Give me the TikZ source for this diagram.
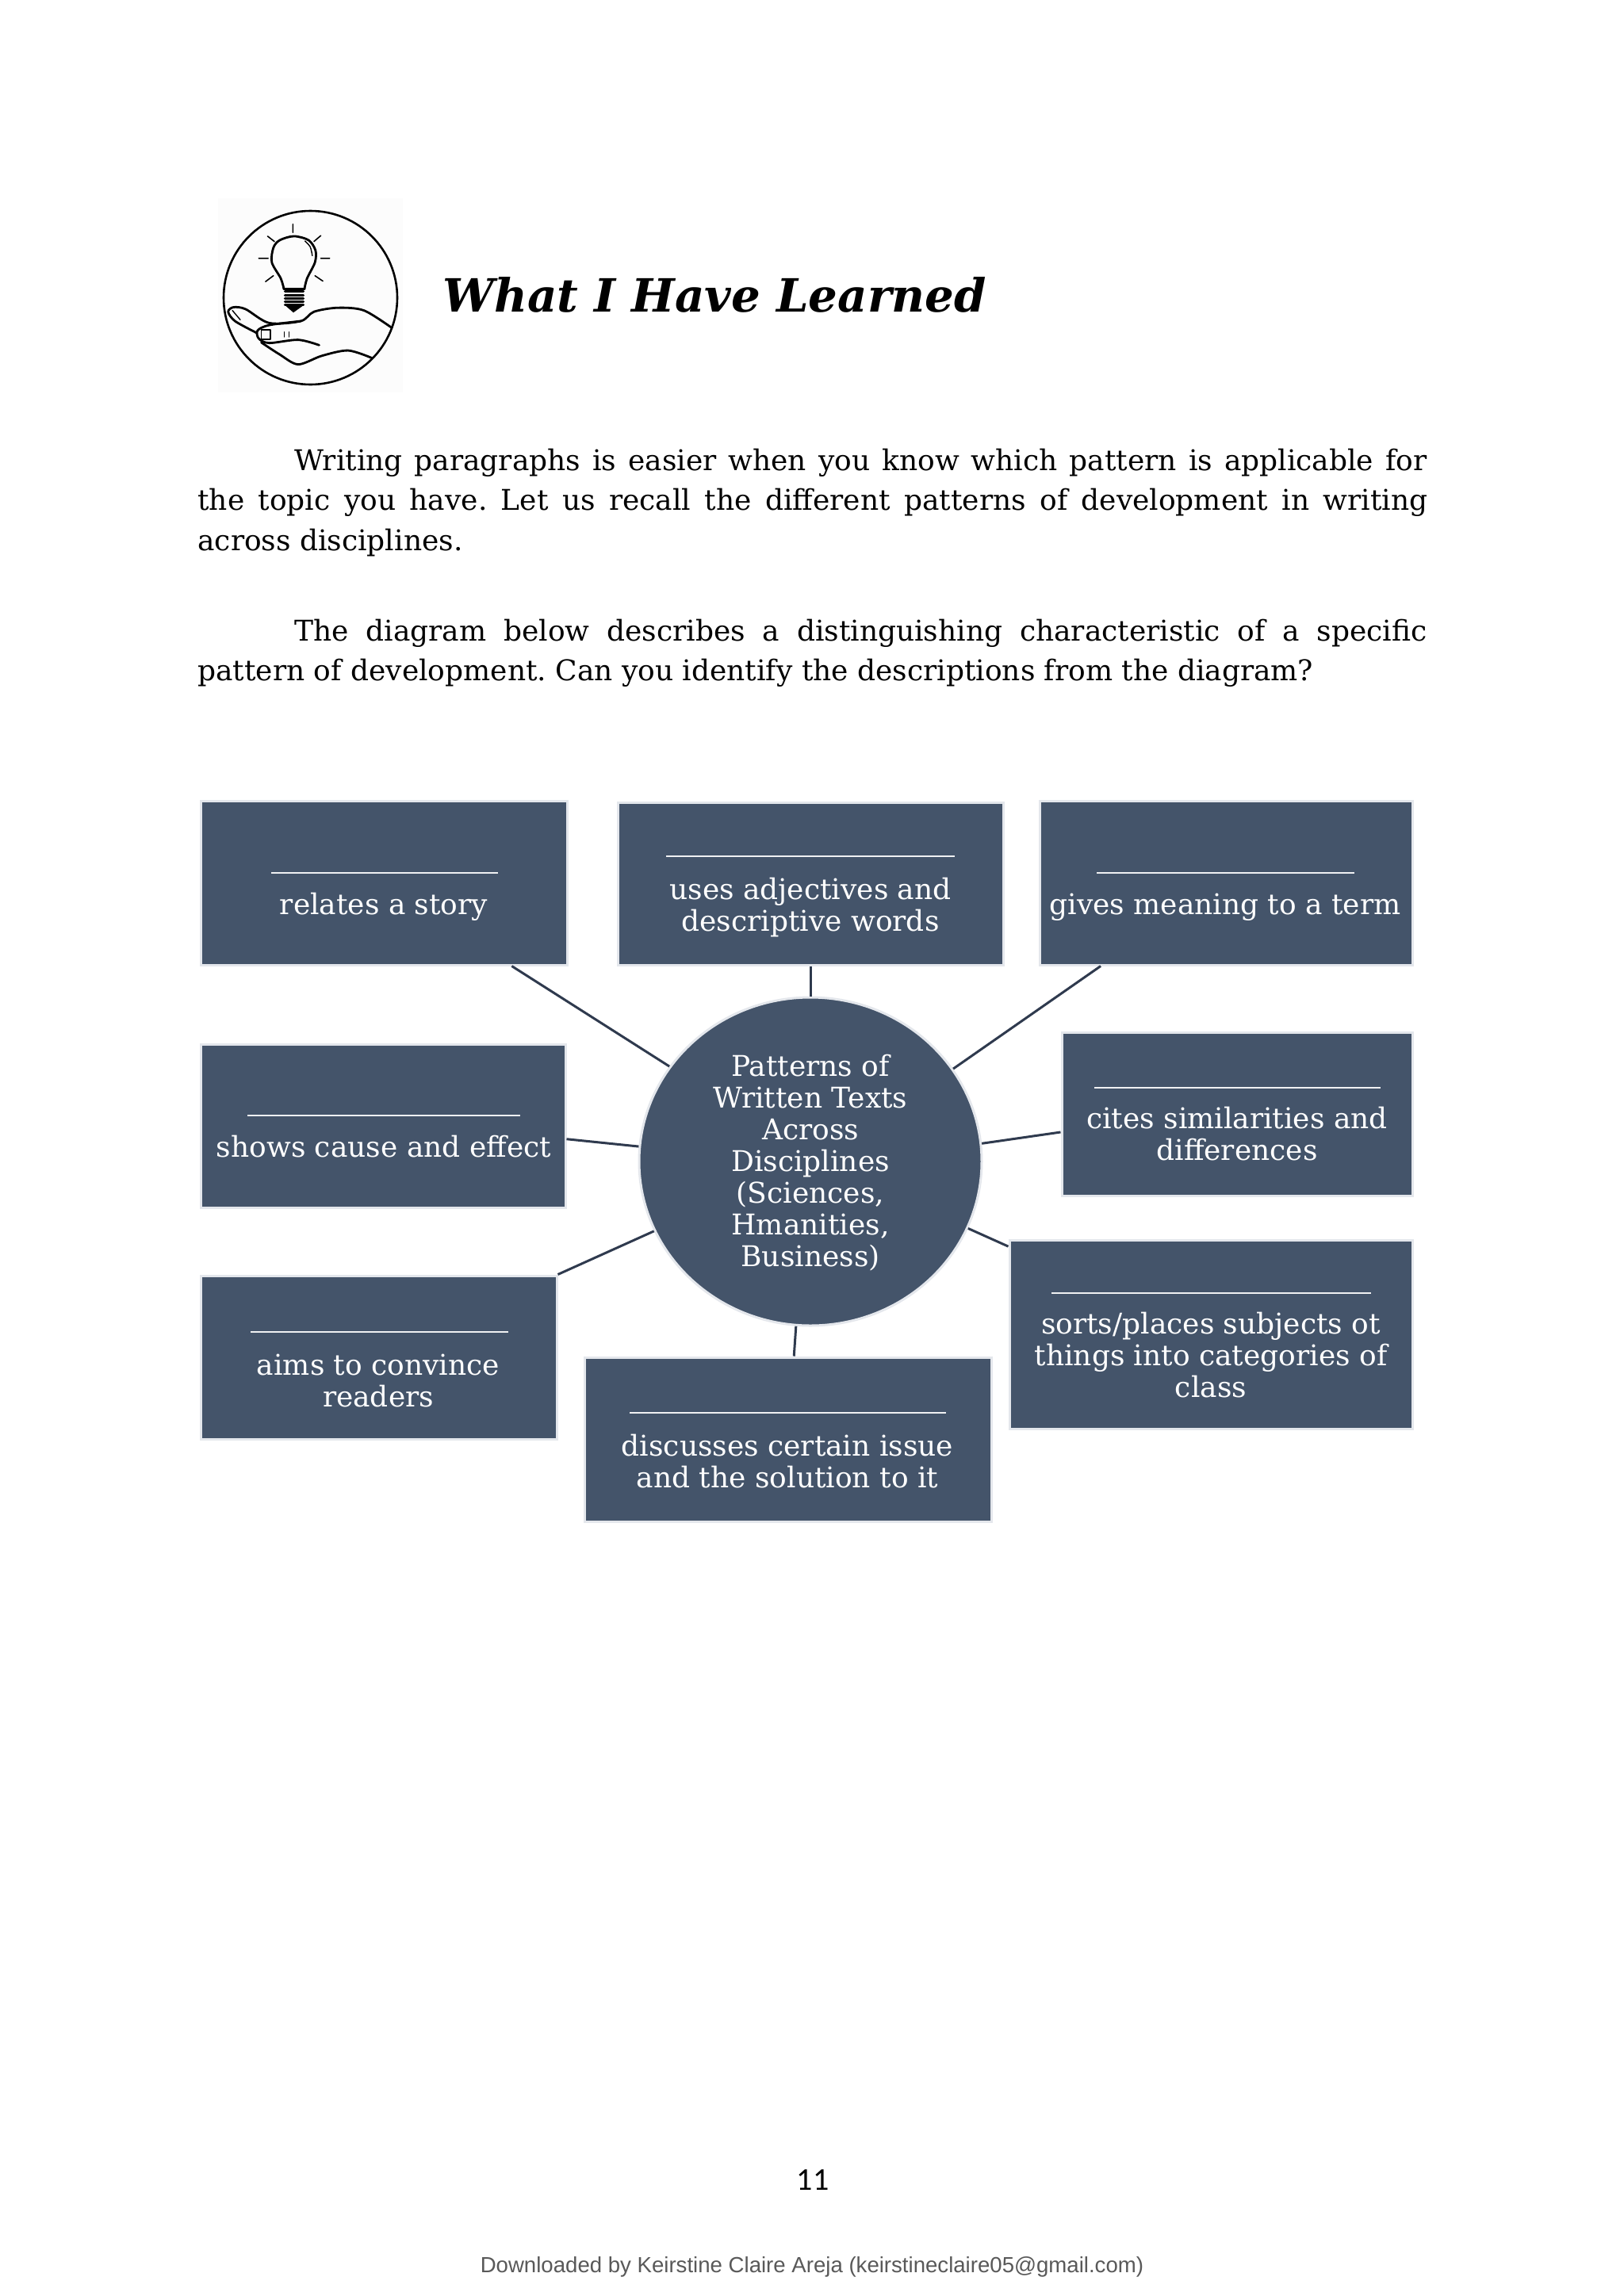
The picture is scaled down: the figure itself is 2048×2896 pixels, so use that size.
\documentclass[tikz,border=0pt]{standalone}
\usepackage{fontspec}
\setmainfont{DejaVu Serif}
\newfontfamily\numfont{Carlito}
\newfontfamily\footfont{Liberation Sans}
\usetikzlibrary{shapes.geometric,calc}
\definecolor{slatefill}{HTML}{44546A}
\definecolor{slateedge}{HTML}{E4E7EC}
\definecolor{linkcol}{HTML}{2F3A4E}
\newcommand{\jline}[2]{\hbox to #1{\frenchspacing\spaceskip=.27em plus 1fil\relax #2}}
\tikzset{
  box/.style={rectangle,draw=slateedge,line width=1.5pt,fill=slatefill,inner sep=0pt},
  hub/.style={ellipse,draw=slateedge,line width=1.5pt,fill=slatefill,inner sep=0pt,minimum width=216pt,minimum height=207pt},
  link/.style={draw=linkcol,line width=1.5pt},
  blank/.style={draw=white!92!slatefill,line width=.9pt},
  boxtext/.style={text=white,align=center,inner sep=0pt,font=\fontsize{18}{20}\selectfont},
  bodyline/.style={anchor=base west,inner sep=0pt,font=\frenchspacing\fontsize{18}{25}\selectfont},
  icon/.style={draw=black,line width=1.4pt,line cap=round,line join=round}
}
\begin{document}
\begin{tikzpicture}[x=0.5pt,y=-0.5pt]
\useasboundingbox (0,0) rectangle (2048,2896);
\fill[white] (0,0) rectangle (2048,2896);
% icon
\fill[black!1] (275,250) rectangle (508,495);
\node[circle,draw=black,line width=1.3pt,minimum size=109.5pt,inner sep=0pt] (iconring) at (391.5,375.5) {};
\begin{scope}[shift={(240,240)},x=0.3316pt,y=-0.1684pt]
\draw[icon] plot[smooth] coordinates {(178,370)(172,330)(155,270)(158,215)(170,187)(197,172)(225,187)(238,225)(237,270)(222,330)(217,370)};
\draw[icon] (178,370)--(217,370);
\draw[icon,line width=.7pt] plot[smooth] coordinates {(218,190)(228,212)(232,245)};
\foreach \yy in {380,392,404,416,428}{\draw[icon,line width=1.5pt] (180,\yy)--(215,\yy);}
\fill[black] (182,434)--(213,434)--(196,458)--cycle;
\draw[icon,line width=.8pt] (195,127)--(195,158) (147,172)--(160,192) (248,170)--(235,192) (130,255)--(148,255) (248,255)--(265,255) (158,320)--(143,342) (237,320)--(252,340);
\draw[icon] plot[smooth] coordinates {(383,515)(330,450)(280,440)(235,455)(210,490)(150,497)(105,445)(82,438)(72,455)(85,490)(127,535)};
\draw[icon] plot[smooth] coordinates {(210,490)(150,505)(128,525)(130,555)(150,572)(205,560)(245,580)};
\draw[icon] plot[smooth] coordinates {(135,570)(170,615)(205,652)(250,620)(300,600)(345,628)};
\draw[icon,line width=.7pt] (135,522) rectangle (152,558);
\draw[icon,line width=.7pt] (80,450)--(95,485);
\draw[icon,line width=.4pt] (178,530)--(178,550) (187,530)--(187,550);
\end{scope}
% title and paragraphs
\node[anchor=base west,inner sep=0pt,font=\fontsize{28.9}{30}\bfseries\itshape\selectfont] (title) at (558,393) {What I Have Learned};
\node[bodyline] (p1) at (371,593) {\jline{714pt}{Writing paragraphs is easier when you know which pattern is applicable for}};
\node[bodyline] (p2) at (249,643.5) {\jline{775.5pt}{the topic you have. Let us recall the different patterns of development in writing}};
\node[bodyline] (p3) at (249,694) {across disciplines.};
\node[bodyline] (p4) at (371,808) {\jline{714pt}{The diagram below describes a distinguishing characteristic of a specific}};
\node[bodyline] (p5) at (249,858) {pattern of development. Can you identify the descriptions from the diagram?};
% boxes
\node[box,minimum width=231pt,minimum height=103.5pt] (b1) at (484,1113.5) {};
\node[box,minimum width=243pt,minimum height=102.5pt] (b2) at (1022,1114.5) {};
\node[box,minimum width=235pt,minimum height=103.5pt] (b3) at (1546,1113.5) {};
\node[box,minimum width=230pt,minimum height=103pt] (b4) at (483,1420) {};
\node[box,minimum width=221pt,minimum height=103pt] (b5) at (1560,1405) {};
\node[box,minimum width=224.5pt,minimum height=103pt] (b6) at (477.5,1712) {};
\node[box,minimum width=256.5pt,minimum height=103.5pt] (b7) at (993.5,1815.5) {};
\node[box,minimum width=254pt,minimum height=119pt] (b8) at (1527,1683) {};
\node[hub] (hub) at (1022,1465) {};
% connectors
\draw[link] ($(b1.south west)!0.847!(b1.south east)$) -- (hub.146.5);
\draw[link] (b2.south) -- (hub.90);
\draw[link] ($(b3.south west)!0.166!(b3.south east)$) -- (hub.33.8);
\draw[link] ($(b4.north east)!0.58!(b4.south east)$) -- (hub.175.5);
\draw[link] ($(b5.north west)!0.61!(b5.south west)$) -- (hub.6.7);
\draw[link] (b6.north east) -- (hub.204.4);
\draw[link] ($(b7.north west)!0.515!(b7.north east)$) -- (hub.265.4);
\draw[link] ($(b8.north west)!0.04!(b8.south west)$) -- (hub.337);
% fill-in rules
\draw[blank] (342,1101)--(628,1101);
\draw[blank] (840,1080)--(1204,1080);
\draw[blank] (1383,1101)--(1708,1101);
\draw[blank] (312,1407)--(656,1407);
\draw[blank] (1380,1372)--(1741,1372);
\draw[blank] (316,1680)--(641,1680);
\draw[blank] (794,1782)--(1193,1782);
\draw[blank] (1326,1631)--(1729,1631);
% box texts
\node[boxtext] (t1) at (484,1144) {relates a story};
\node[boxtext] (t2) at (1022,1145) {uses adjectives and\\descriptive words};
\node[boxtext] (t3) at (1545,1144) {gives meaning to a term};
\node[boxtext] (t4) at (484,1446) {shows cause and effect};
\node[boxtext] (t5) at (1560,1430) {cites similarities and\\differences};
\node[boxtext] (t6) at (477,1741) {aims to convince\\readers};
\node[boxtext] (t7) at (993,1843) {discusses certain issue\\and the solution to it};
\node[boxtext] (t8) at (1527,1709) {sorts/places subjects ot\\things into categories of\\class};
\node[boxtext] (t9) at (1022,1467) {Patterns of\\Written Texts\\Across\\Disciplines\\(Sciences,\\Hmanities,\\Business)};
% footer
\node[inner sep=0pt,font=\numfont\fontsize{20}{22}\selectfont] (pagenum) at (1025,2750) {11};
\node[inner sep=0pt,text=black!65,font=\footfont\fontsize{13.8}{16}\selectfont] (foot) at (1024,2859) {Downloaded by Keirstine Claire Areja (keirstineclaire05@gmail.com)};
\end{tikzpicture}
\end{document}
